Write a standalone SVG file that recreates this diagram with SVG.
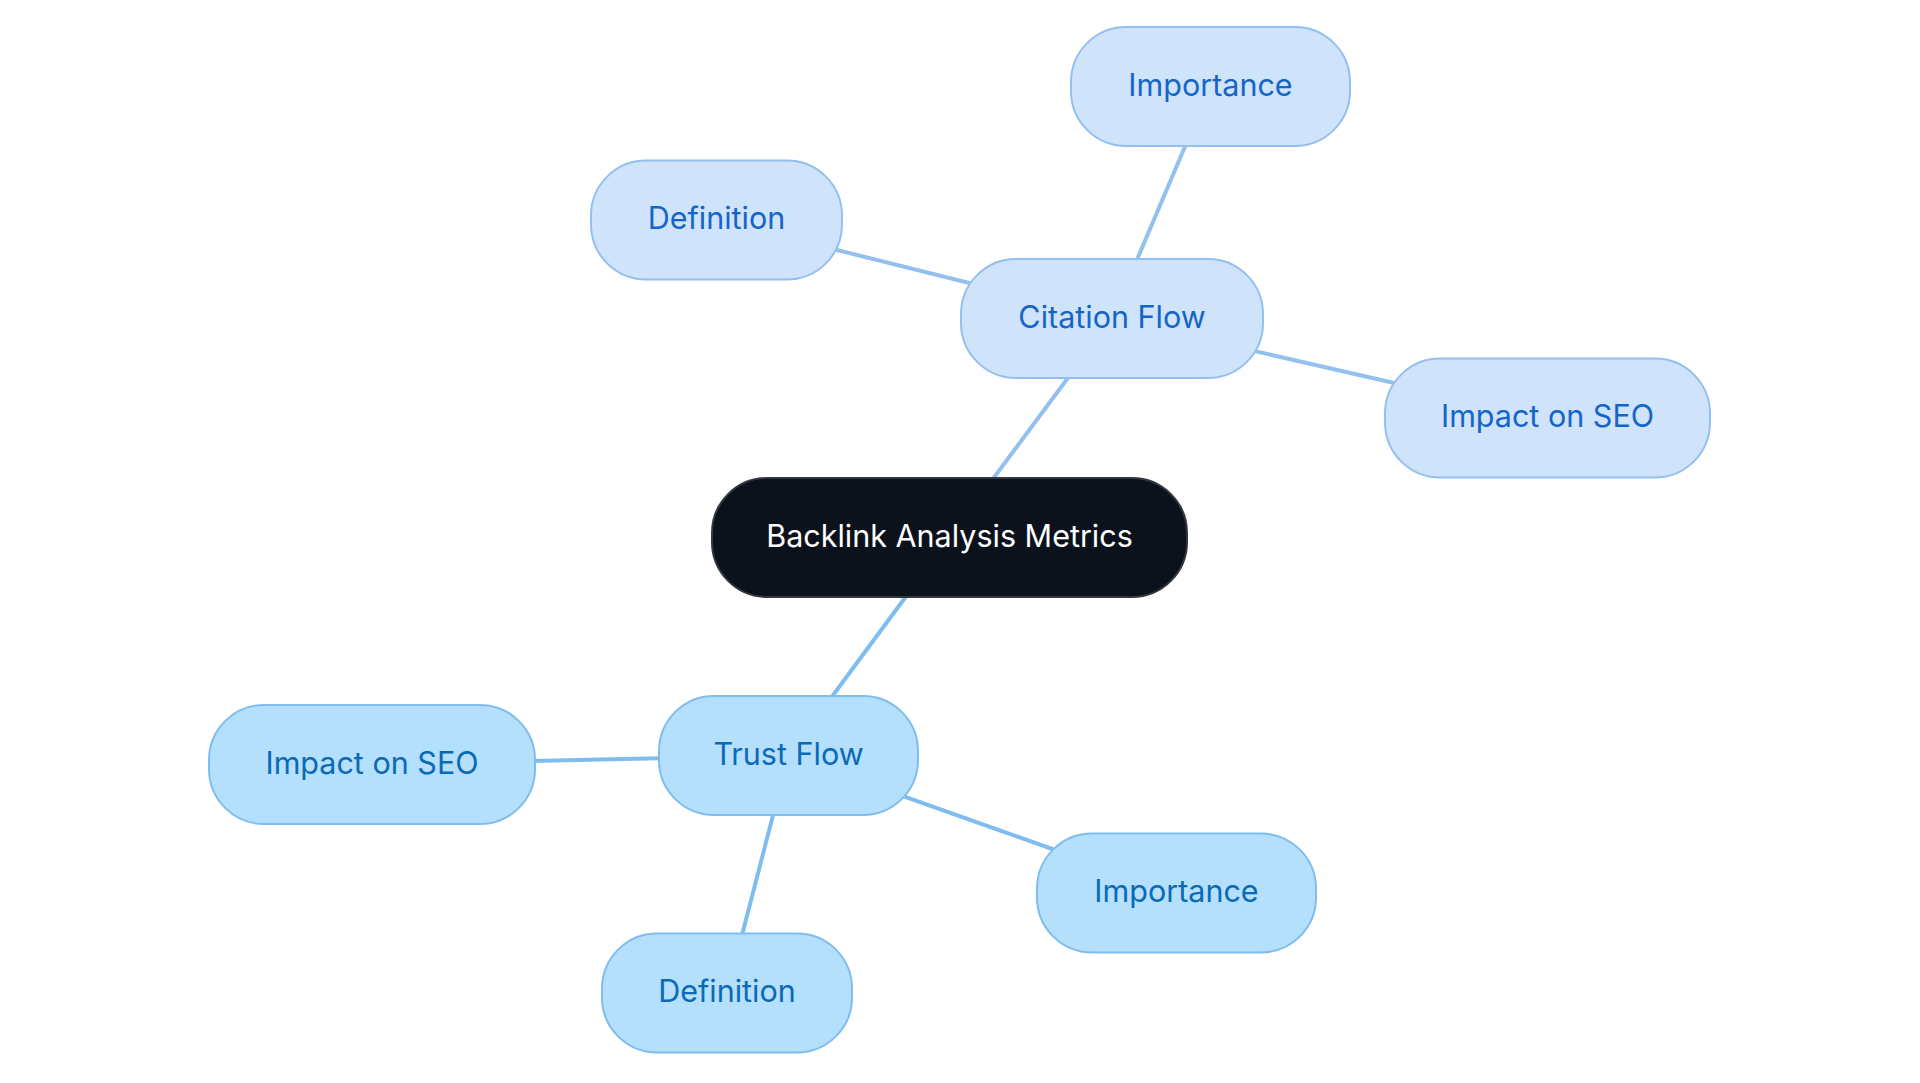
<svg xmlns="http://www.w3.org/2000/svg" width="1920" height="1083" viewBox="0 0 1920 1083">
<style>
  .edge { stroke-width: 4; fill: none; }
  .e-cf { stroke: #93c0ee; }
  .e-tf { stroke: #7fbdef; }
  .n-root rect { fill: #0c121c; stroke: #33373e; stroke-width: 2; }
  .n-cf rect { fill: #cfe3fb; stroke: #93c0ee; stroke-width: 2; }
  .n-tf rect { fill: #b4dffd; stroke: #7fbdef; stroke-width: 2; }
  text { font-family: Inter, "Noto Sans", "Liberation Sans", sans-serif; font-size: 30.5px; text-anchor: middle; dominant-baseline: central; }
  .n-root text { fill: #ffffff; }
  .n-cf text { fill: #1565c8; }
  .n-tf text { fill: #0a6ab5; }
</style>
<rect width="1920" height="1083" fill="#ffffff"/>
<g id="connectors">
  <line class="edge e-cf" x1="949.5" y1="537.5" x2="1112" y2="318.5"/>
  <line class="edge e-tf" x1="949.5" y1="537.5" x2="788.5" y2="755.5"/>
  <line class="edge e-cf" x1="1112" y1="318.5" x2="1210.5" y2="86.5"/>
  <line class="edge e-cf" x1="1112" y1="318.5" x2="716.5" y2="220"/>
  <line class="edge e-cf" x1="1112" y1="318.5" x2="1547.5" y2="418"/>
  <line class="edge e-tf" x1="788.5" y1="755.5" x2="372" y2="764.5"/>
  <line class="edge e-tf" x1="788.5" y1="755.5" x2="1176.5" y2="893"/>
  <line class="edge e-tf" x1="788.5" y1="755.5" x2="727" y2="993"/>
</g>
<g id="node-root" class="n-root">
  <rect x="712" y="478" width="475" height="119" rx="55"/>
  <text x="949.5" y="535">Backlink Analysis Metrics</text>
</g>
<g id="node-citation-flow" class="n-cf">
  <rect x="961" y="259" width="302" height="119" rx="55"/>
  <text x="1112" y="316">Citation Flow</text>
</g>
<g id="node-cf-importance" class="n-cf">
  <rect x="1071" y="27" width="279" height="119" rx="55"/>
  <text x="1210.5" y="84">Importance</text>
</g>
<g id="node-cf-definition" class="n-cf">
  <rect x="591" y="160.5" width="251" height="119" rx="55"/>
  <text x="716.5" y="217.5">Definition</text>
</g>
<g id="node-cf-impact" class="n-cf">
  <rect x="1385" y="358.5" width="325" height="119" rx="55"/>
  <text x="1547.5" y="415.5">Impact on SEO</text>
</g>
<g id="node-trust-flow" class="n-tf">
  <rect x="659" y="696" width="259" height="119" rx="55"/>
  <text x="788.5" y="753">Trust Flow</text>
</g>
<g id="node-tf-impact" class="n-tf">
  <rect x="209" y="705" width="326" height="119" rx="55"/>
  <text x="372" y="762">Impact on SEO</text>
</g>
<g id="node-tf-importance" class="n-tf">
  <rect x="1037" y="833.5" width="279" height="119" rx="55"/>
  <text x="1176.5" y="890.5">Importance</text>
</g>
<g id="node-tf-definition" class="n-tf">
  <rect x="602" y="933.5" width="250" height="119" rx="55"/>
  <text x="727" y="990.5">Definition</text>
</g>
</svg>
